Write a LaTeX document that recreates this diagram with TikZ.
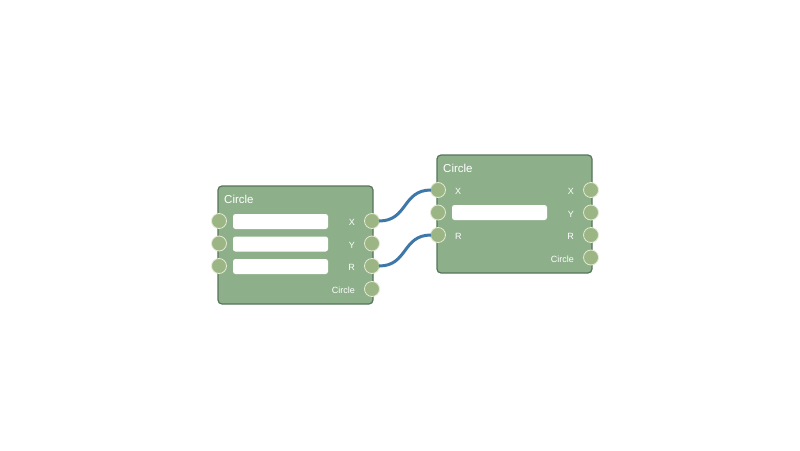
\documentclass[tikz,border=0pt]{standalone}
\usepackage{fontspec}
\setmainfont{Liberation Sans}
\definecolor{boxfill}{HTML}{8DB08A}
\definecolor{boxline}{HTML}{56755A}
\definecolor{portfill}{HTML}{9CB585}
\definecolor{portline}{HTML}{E4E9D2}
\definecolor{wire}{HTML}{3E78A8}
\begin{document}
\begin{tikzpicture}[x=1pt,y=-1pt,
  blockbox/.style={draw=boxline,fill=boxfill,line width=1.2pt,rounded corners=4pt},
  port/.style={circle,draw=portline,fill=portfill,line width=0.8pt,minimum size=15pt,inner sep=0pt},
  field/.style={fill=white,rounded corners=2.5pt,draw=none},
  title/.style={text=white,font=\fontsize{11.5}{13}\selectfont,anchor=west,inner sep=0pt},
  lbl/.style={text=white,font=\fontsize{9}{10}\selectfont,inner sep=0pt,yshift=-1.5pt},
  link/.style={wire,line width=3pt}]
\useasboundingbox (0,0) rectangle (800,450);
\fill[white] (0,0) rectangle (800,450);
% left block
\draw[blockbox] (218,186) rectangle (373,304);
\node[title] (lt) at (224,199) {Circle};
\fill[field] (233,214) rectangle (328,229);
\fill[field] (233,236.5) rectangle (328,251.5);
\fill[field] (233,259) rectangle (328,274);
\node[port] (lin1) at (219,221) {};
\node[port] (lin2) at (219,243.5) {};
\node[port] (lin3) at (219,266) {};
\node[port] (lox) at (372,221) {};
\node[port] (loy) at (372,243.5) {};
\node[port] (lor) at (372,266) {};
\node[port] (loc) at (372,289) {};
\node[lbl,anchor=east] (llx) at (355,221) {X};
\node[lbl,anchor=east] (lly) at (355,243.5) {Y};
\node[lbl,anchor=east] (llr) at (355,266) {R};
\node[lbl,anchor=east] (llc) at (355,289) {Circle};
% right block
\draw[blockbox] (437,155) rectangle (592,273);
\node[title] (rt) at (443,168) {Circle};
\fill[field] (452,205) rectangle (547,220);
\node[port] (rix) at (438,190) {};
\node[port] (riy) at (438,212.5) {};
\node[port] (rir) at (438,235) {};
\node[port] (rox) at (591,190) {};
\node[port] (roy) at (591,212.5) {};
\node[port] (ror) at (591,235) {};
\node[port] (roc) at (591,257.5) {};
\node[lbl,anchor=west] (rlx) at (455,190) {X};
\node[lbl,anchor=west] (rlr) at (455,235) {R};
\node[lbl,anchor=east] (rrx) at (574,190) {X};
\node[lbl,anchor=east] (rry) at (574,212.5) {Y};
\node[lbl,anchor=east] (rrr) at (574,235) {R};
\node[lbl,anchor=east] (rrc) at (574,257.5) {Circle};
% links
\path (lox.center) ++(7,0) coordinate (a1) (rix.center) ++(-7,0) coordinate (b1);
\draw[link] (a1) .. controls (408,221) and (402,190) .. (b1);
\path (lor.center) ++(7,0) coordinate (a2) (rir.center) ++(-7,0) coordinate (b2);
\draw[link] (a2) .. controls (408,266) and (402,235) .. (b2);
\end{tikzpicture}
\end{document}
